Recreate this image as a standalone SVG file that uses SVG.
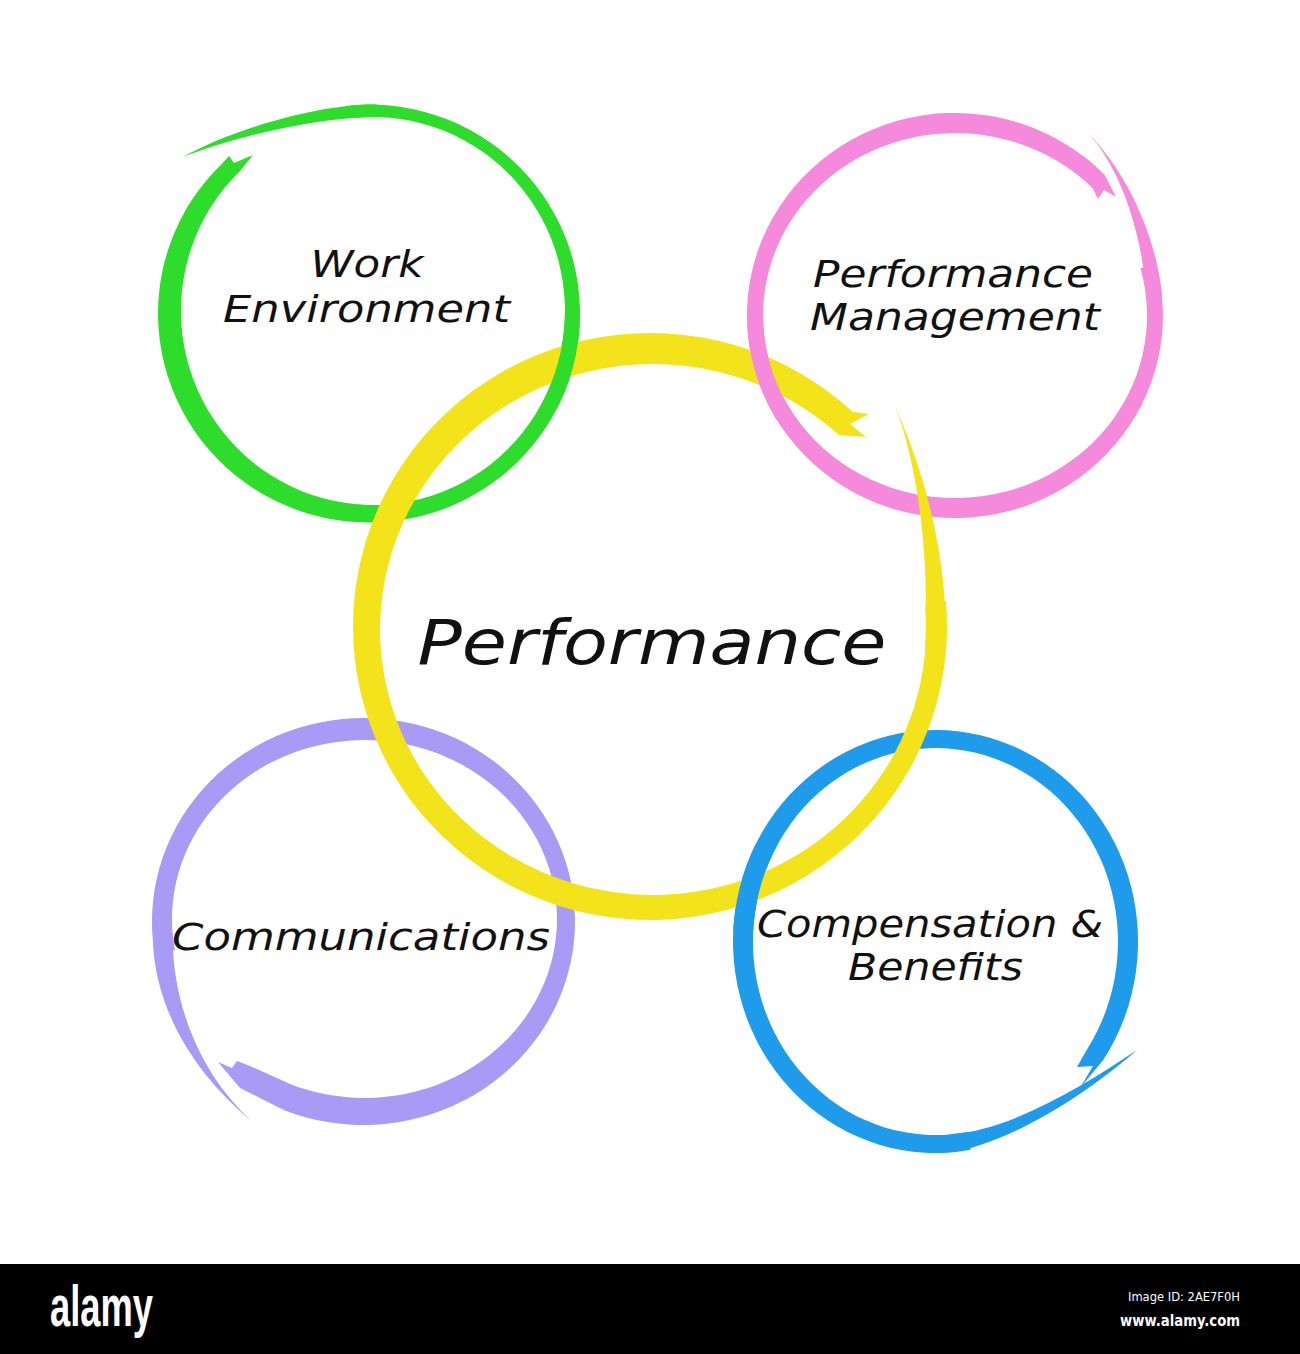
<svg xmlns="http://www.w3.org/2000/svg" width="1300" height="1354" viewBox="0 0 1300 1354">
<style>
.lbl{font-family:"DejaVu Sans","Noto Sans",sans-serif;font-style:italic;font-size:38px;fill:#111;text-anchor:middle}
.big{font-size:62px}
.wm{font-family:"DejaVu Sans","Liberation Sans",sans-serif;fill:#fff;text-anchor:end}
</style>
<defs>
<clipPath id="clipG"><rect x="530" y="310" width="80" height="100"/></clipPath>
<clipPath id="clipP"><rect x="735" y="320" width="70" height="100"/></clipPath>
<clipPath id="clipB"><rect x="720" y="845" width="60" height="85"/></clipPath>
</defs>
<rect width="1300" height="1354" fill="#fff"/>

<g id="node-work-environment">
<g id="ring-green" fill="#2EDD2C">
<path d="M350.6,105.3 A211,209 0 1 1 222.4,163.2 L229,156 L234,163 L253,155 L239.6,171.4 A192,194 0 1 0 356.3,117.7 Z"/>
<path d="M376.4,104.6 C330,103 240,125 183,157 C240,135 320,117 379.7,117.1 Z"/>
</g>
<text class="lbl" x="367" y="277" textLength="113" lengthAdjust="spacingAndGlyphs">Work</text>
<text class="lbl" x="366.5" y="322" textLength="287" lengthAdjust="spacingAndGlyphs">Environment</text>
</g>

<g id="node-performance-management">
<g id="ring-pink" fill="#F58ADC">
<path d="M1155.9,263.1 A208,202.5 0 1 1 1104.6,174.8 L1116,197 L1104,190 L1098,199 L1093.1,188.7 A192,182.5 0 1 0 1140.5,268.3 Z"/>
<path d="M1162.2,297.9 C1157,235 1125,170 1088,133 C1118,165 1143,230 1146.3,299.6 Z"/>
</g>
<text class="lbl" x="953" y="287" textLength="280" lengthAdjust="spacingAndGlyphs">Performance</text>
<text class="lbl" x="955" y="330" textLength="290" lengthAdjust="spacingAndGlyphs">Management</text>
</g>

<g id="node-communications">
<g id="ring-purple" fill="#A99AF5">
<path d="M155.2,956.8 A211.5,203.5 0 1 1 284.3,1110.2 L240,1088 L218,1062 L232,1068 L237,1061 L250,1066 L292.4,1085 A192.5,179 0 1 0 174.9,950.1 Z"/>
<path d="M152.8,939.2 C155,1010 195,1075 253,1122 C205,1080 172,1010 172.7,934.6 Z"/>
</g>
<text class="lbl" x="361" y="950" textLength="378" lengthAdjust="spacingAndGlyphs">Communications</text>
</g>

<g id="node-compensation-benefits">
<g id="ring-blue" fill="#1E9BEA">
<path d="M970.7,1149.8 A202.5,211.5 0 1 1 1103.4,1059.8 L1080,1088 L1093,1066 L1077,1067 L1086.8,1049.7 A182.5,193.5 0 1 0 967.2,1132.1 Z"/>
<path d="M953.2,1152.2 C1015,1140 1085,1095 1137,1050 C1080,1088 1010,1130 951.4,1134.3 Z"/>
</g>
<text class="lbl" x="930" y="937" textLength="346" lengthAdjust="spacingAndGlyphs">Compensation &amp;</text>
<text class="lbl" x="935.5" y="980" textLength="175" lengthAdjust="spacingAndGlyphs">Benefits</text>
</g>

<g id="node-performance">
<g id="ring-yellow" fill="#F2E31B">
<path d="M945.9,600.9 A297,293.5 0 1 1 852.6,411.8 L869,414 L850,424 L866,437 L839.2,435.3 A273,265.5 0 1 0 925,606.4 Z"/>
<path d="M945.9,652.1 C949,540 915,450 893,402 C910,440 931,530 925,652.6 Z"/>
</g>
<text class="lbl big" x="652" y="664" textLength="469" lengthAdjust="spacingAndGlyphs">Performance</text>
</g>

<g id="interlace">
<use href="#ring-green" clip-path="url(#clipG)"/>
<use href="#ring-pink" clip-path="url(#clipP)"/>
<use href="#ring-blue" clip-path="url(#clipB)"/>
</g>

<g id="watermark-bar">
<rect x="0" y="1264" width="1300" height="90" fill="#000"/>
<text x="50" y="1326" font-family="Liberation Sans Narrow,Liberation Sans,sans-serif" font-weight="bold" font-size="58" fill="#fff" textLength="103" lengthAdjust="spacingAndGlyphs">alamy</text>
<text class="wm" x="1240" y="1301" font-size="13" textLength="112" lengthAdjust="spacingAndGlyphs">Image ID: 2AE7F0H</text>
<text class="wm" x="1240" y="1326" font-size="16" font-weight="bold" textLength="120" lengthAdjust="spacingAndGlyphs">www.alamy.com</text>
</g>
</svg>
